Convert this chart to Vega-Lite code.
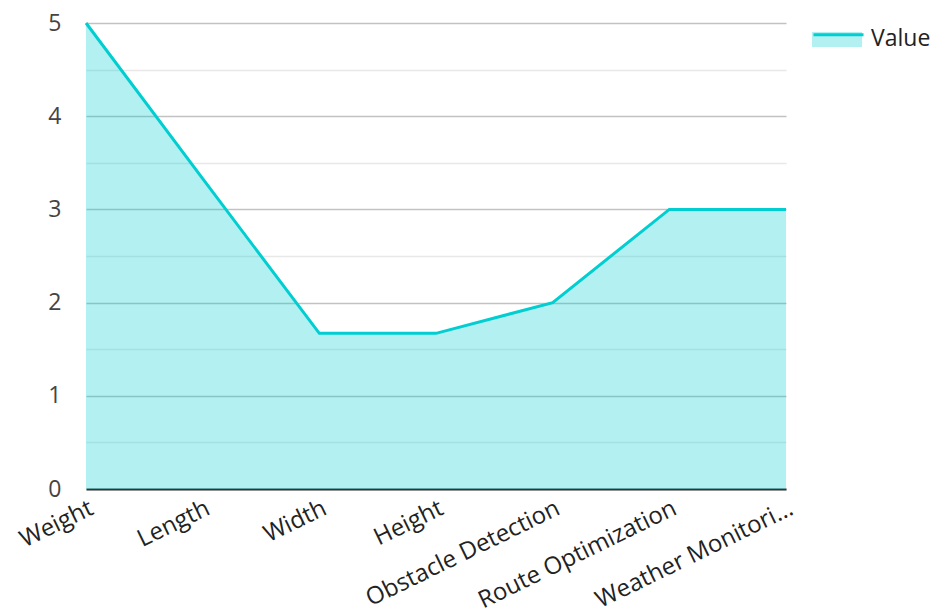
{
  "$schema": "https://vega.github.io/schema/vega-lite/v6.json",
  "width": 700,
  "height": 466,
  "autosize": "none",
  "padding": {"left": 86, "top": 23, "right": 150, "bottom": 125},
  "config": {"font": "Open Sans", "view": {"stroke": null}},
  "data": {
    "values": [
      {"category": "Weight", "value": 5},
      {"category": "Length", "value": 3.33},
      {"category": "Width", "value": 1.67},
      {"category": "Height", "value": 1.67},
      {"category": "Obstacle Detection", "value": 2},
      {"category": "Route Optimization", "value": 3},
      {"category": "Weather Monitoring", "value": 3}
    ]
  },
  "encoding": {
    "x": {
      "field": "category",
      "type": "nominal",
      "sort": null,
      "scale": {"type": "point", "padding": 0},
      "axis": {
        "title": null,
        "labelAngle": -26,
        "labelAlign": "right",
        "labelBaseline": "top",
        "labelFontSize": 24,
        "labelColor": "#222222",
        "labelPadding": 7,
        "labelLimit": 0,
        "labelExpr": "datum.label == 'Weather Monitoring' ? 'Weather Monitori…' : datum.label",
        "domainColor": "#333333",
        "domainWidth": 2,
        "ticks": false,
        "grid": false
      }
    },
    "y": {
      "field": "value",
      "type": "quantitative",
      "scale": {"domain": [0, 5], "nice": false},
      "axis": {
        "title": null,
        "values": [0, 0.5, 1, 1.5, 2, 2.5, 3, 3.5, 4, 4.5, 5],
        "labelExpr": "datum.value % 1 == 0 ? format(datum.value, 'd') : ''",
        "labelFontSize": 23,
        "labelColor": "#444444",
        "labelPadding": 25,
        "domain": false,
        "ticks": false,
        "gridColor": {"condition": {"test": "datum.value % 1 == 0", "value": "#c2c2c2"}, "value": "#e8e8e8"},
        "gridWidth": 1.5
      }
    }
  },
  "layer": [
    {
      "mark": {"type": "area", "opacity": 0.3},
      "encoding": {
        "fill": {
          "datum": "Value area",
          "scale": {"range": ["#00CED1"]},
          "legend": {
            "title": null,
            "orient": "none",
            "legendX": 726,
            "legendY": 4,
            "padding": 0,
            "symbolType": "M-1,-0.6H3V0.6H-1Z",
            "symbolSize": 625,
            "symbolOpacity": 0.3,
            "symbolStrokeWidth": 0,
            "labelExpr": "''"
          }
        }
      }
    },
    {
      "mark": {"type": "line", "strokeWidth": 3},
      "encoding": {
        "stroke": {
          "datum": "Value",
          "scale": {"range": ["#00CED1"]},
          "legend": {
            "title": null,
            "orient": "none",
            "legendX": 726,
            "legendY": 2,
            "padding": 0,
            "symbolType": "M-1,-0.34H3",
            "symbolSize": 625,
            "symbolStrokeWidth": 3,
            "labelFontSize": 23,
            "labelColor": "#222222",
            "labelOffset": 31
          }
        }
      }
    }
  ]
}
